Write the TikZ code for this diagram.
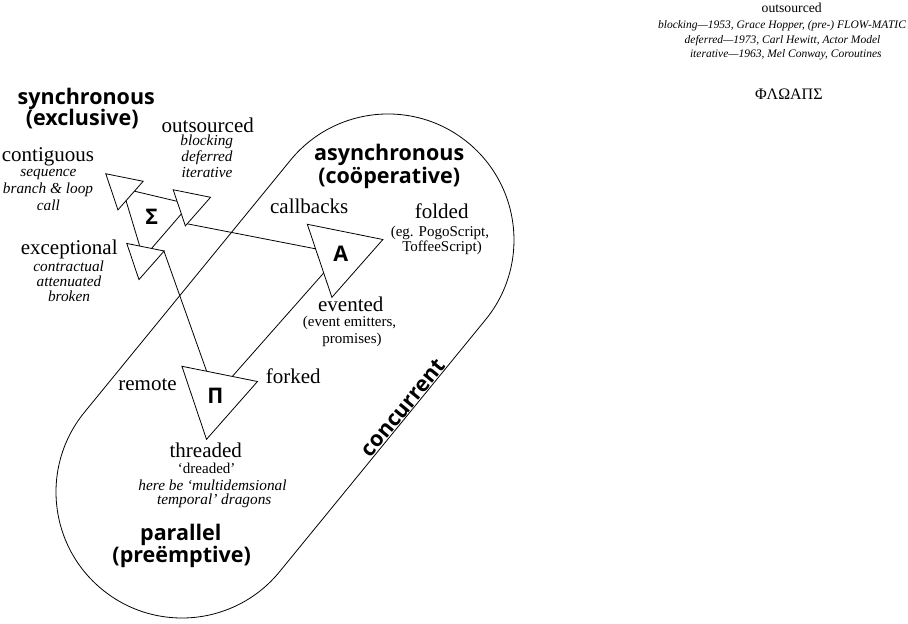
\documentclass[tikz,border=0pt]{standalone}
\usepackage{fontspec}
\setmainfont{Liberation Serif}
\setsansfont{Open Sans}
\usetikzlibrary{shapes.geometric}
\newcommand\hdF{\sffamily\bfseries\fontsize{21.5}{24}\selectfont}
\newcommand\lbF{\rmfamily\fontsize{21}{23}\selectfont}
\newcommand\itF{\rmfamily\itshape\fontsize{15.3}{17}\selectfont}
\newcommand\smF{\rmfamily\fontsize{15}{17}\selectfont}
\newcommand\trF{\rmfamily\fontsize{13.7}{15}\selectfont}
\newcommand\tiF{\rmfamily\itshape\fontsize{11.5}{13}\selectfont}
\newcommand\grF{\rmfamily\fontsize{16}{18}\selectfont}
\tikzset{
  conn/.style={line width=0.8pt},
  pill/.style={line width=0.8pt},
  tri/.style={regular polygon, regular polygon sides=3, shape border rotate=48.6,
    inner sep=0pt, outer sep=0pt, line width=0.8pt},
  bigtri/.style={tri, draw, fill=white, minimum size=89pt, font=\hdF},
  hull/.style={tri, fill=white, minimum size=126pt, font=\hdF},
  smalltri/.style={tri, draw, fill=white, minimum size=44pt},
  head/.style={anchor=base, inner sep=0pt, font=\hdF},
  lab/.style={anchor=base, inner sep=0pt, font=\lbF},
  sub/.style={anchor=base, inner sep=0pt, font=\itF},
  note/.style={anchor=base, inner sep=0pt, font=\smF},
  topr/.style={anchor=base, inner sep=0pt, font=\trF},
  topi/.style={anchor=base, inner sep=0pt, font=\tiF},
}
\begin{document}
\begin{tikzpicture}[x=1pt,y=1pt]
\fill[white] (0,0) rectangle (908,-624);
\useasboundingbox (0,0) rectangle (908,-624);

% the concurrent pill
\begin{scope}[shift={(182,-492)}, rotate=50.74]
  \draw[pill] (0,-126) -- (325.5,-126) arc[start angle=-90, end angle=90, radius=126]
    -- (0,126) arc[start angle=90, end angle=270, radius=126] -- cycle;
\end{scope}
\node[head, anchor=base, rotate=50.5] (concurrent) at (408.4,-412.5) {concurrent};

% super triangle
\coordinate (Sc) at (151.8,-216.9);
\coordinate (Ac) at (340.7,-253.7);
\coordinate (Pc) at (215.3,-395.7);
\draw[conn] (Sc) -- (Ac) -- (Pc) -- cycle;
\node[hull] (S) at (Sc) {Σ};
\node[bigtri] (A) at (Ac) {A};
\node[bigtri] (P) at (Pc) {Π};

% sigma sub-triangles
\coordinate (c1) at (122.3,-188.3);
\coordinate (c2) at (189.7,-204.3);
\coordinate (c3) at (143.3,-258);
\draw[conn] (c1) -- (c2) -- (c3) -- cycle;
\node[smalltri] (contig) at (c1) {};
\node[smalltri] (outs) at (c2) {};
\node[smalltri] (excep) at (c3) {};

% headings
\node[head] (sync1) at (86.3,-104) {synchronous};
\node[head] (sync2) at (82.2,-125) {(exclusive)};
\node[head] (async1) at (389.2,-160) {asynchronous};
\node[head] (async2) at (389.2,-183) {(coöperative)};
\node[head] (par1) at (180.8,-540) {parallel};
\node[head] (par2) at (181.7,-562.7) {(preëmptive)};

% contiguous
\node[lab] (contigL) at (48,-161) {contiguous};
\node[sub] (contig1) at (48.5,-176) {sequence};
\node[sub] (contig2) at (48,-193.5) {branch \& loop};
\node[sub] (contig3) at (48.3,-210) {call};
% outsourced
\node[lab] (outsL) at (207.8,-132.7) {outsourced};
\node[sub] (outs1) at (206.7,-145.5) {blocking};
\node[sub] (outs2) at (207,-161.5) {deferred};
\node[sub] (outs3) at (207,-177.3) {iterative};
% exceptional
\node[lab] (excepL) at (69.2,-254) {exceptional};
\node[sub] (excep1) at (68.7,-271) {contractual};
\node[sub] (excep2) at (69,-286) {attenuated};
\node[sub] (excep3) at (69,-301) {broken};
% A labels
\node[lab] (callb) at (309.2,-213.3) {callbacks};
\node[lab] (fold) at (441.7,-218.3) {folded};
\node[note] (fold1) at (440,-236) {(eg. PogoScript,};
\node[note] (fold2) at (442,-251.7) {ToffeeScript)};
\node[lab] (event) at (350.8,-311.7) {evented};
\node[note] (event1) at (349.5,-326.7) {(event emitters,};
\node[note] (event2) at (352,-343.3) {promises)};
% Pi labels
\node[lab] (remote) at (147.5,-390) {remote};
\node[lab] (forked) at (293.3,-383.3) {forked};
\node[lab] (thread) at (205.8,-457.3) {threaded};
\node[note] (thread1) at (206.7,-473.3) {‘dreaded’};
\node[sub] (thread2) at (212.5,-490) {here be ‘multidemsional};
\node[sub] (thread3) at (214.2,-504.3) {temporal’ dragons};

% top right notes
\node[topr] (tr0) at (791.7,-12.7) {outsourced};
\node[topi] (tr1) at (782,-28.3) {blocking—1953, Grace Hopper, (pre-) FLOW-MATIC};
\node[topi] (tr2) at (782.5,-43.3) {deferred—1973, Carl Hewitt, Actor Model};
\node[topi] (tr3) at (785.8,-57.3) {iterative—1963, Mel Conway, Coroutines};
\node[anchor=base, inner sep=0pt, font=\grF] (greek) at (788.8,-99) {ΦΛΩΑΠΣ};
\end{tikzpicture}
\end{document}
